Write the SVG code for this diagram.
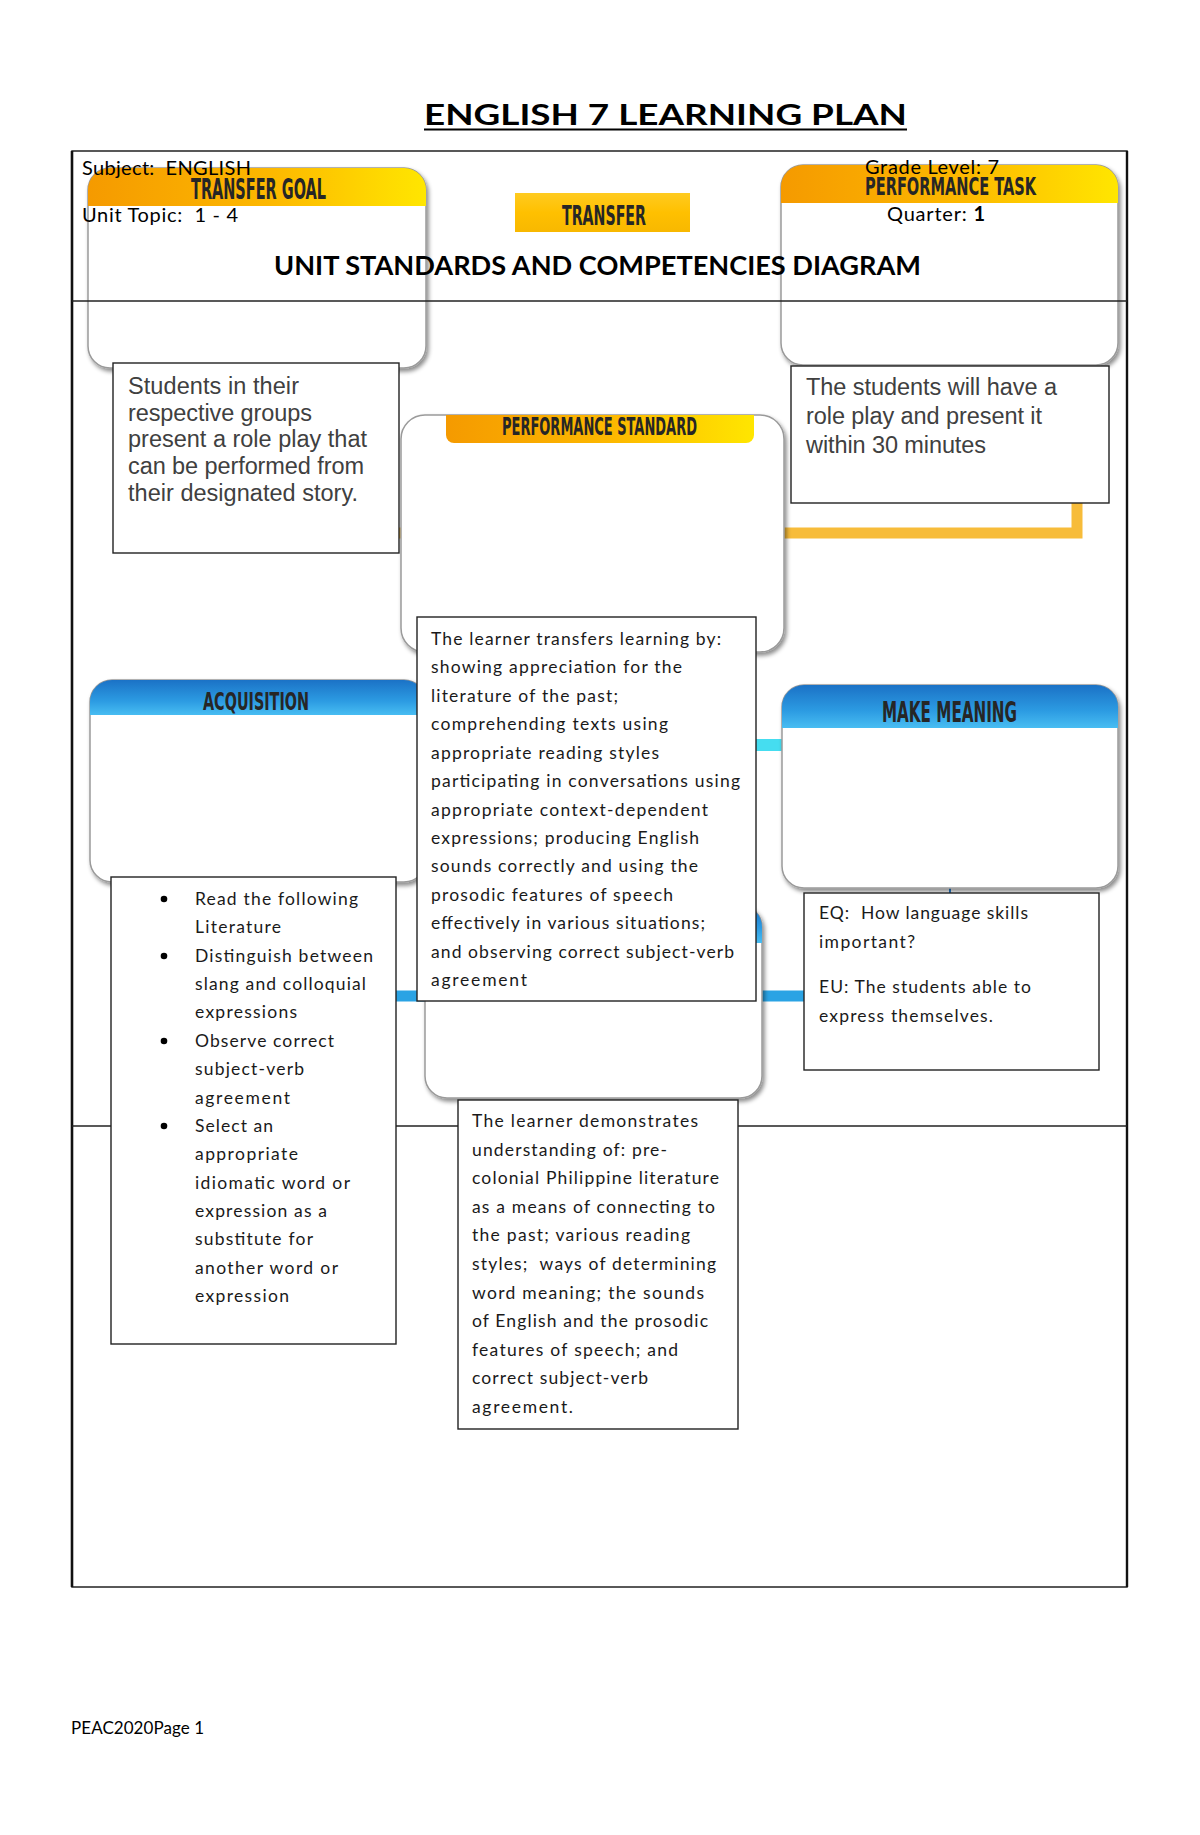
<svg xmlns="http://www.w3.org/2000/svg" width="1200" height="1835" viewBox="0 0 1200 1835">
<style>
.bg{fill:#ffffff}
.shape{fill:#ffffff;stroke:#9a9a9a;stroke-width:1.5}
.box{fill:#ffffff;stroke:#222222;stroke-width:1.4}
.hd{font-family:"DejaVu Sans Condensed","DejaVu Sans",sans-serif;font-weight:bold;fill:#262626}
.lbl{font-family:Lato,"Liberation Sans",sans-serif;font-size:20px;fill:#000000}
.arial{font-family:"Liberation Sans",Arial,sans-serif;font-size:23.5px;fill:#404040}
.cal{font-family:Lato,"Liberation Sans",sans-serif;font-size:17.5px;fill:#1a1a1a}
.tbl{fill:none;stroke:#222222;stroke-width:1.5}
</style>
<defs>
<linearGradient id="gOr" x1="0" y1="0" x2="1" y2="0">
<stop offset="0" stop-color="#F59A00"/>
<stop offset="0.55" stop-color="#FDB900"/>
<stop offset="1" stop-color="#FFE600"/>
</linearGradient>
<linearGradient id="gTr" x1="0" y1="0" x2="0" y2="1">
<stop offset="0" stop-color="#FFCB20"/>
<stop offset="0.5" stop-color="#FFC000"/>
<stop offset="1" stop-color="#F8B800"/>
</linearGradient>
<linearGradient id="gBl" x1="0" y1="0" x2="0" y2="1">
<stop offset="0" stop-color="#1B72C6"/>
<stop offset="0.6" stop-color="#2C9BE2"/>
<stop offset="1" stop-color="#48BDF2"/>
</linearGradient>
<filter id="sh" x="-10%" y="-10%" width="125%" height="130%">
<feDropShadow dx="2" dy="3" stdDeviation="2" flood-color="#000000" flood-opacity="0.45"/>
</filter>
</defs>
<rect class="bg" x="0" y="0" width="1200" height="1835"/>

<g id="connectors">
<path d="M 399 533 H 1077 V 503" fill="none" stroke="#F7BC3A" stroke-width="11"/>
<path d="M 426 745 H 782" fill="none" stroke="#45DDF0" stroke-width="12"/>
<path d="M 396 996 H 804" fill="none" stroke="#2AA3E4" stroke-width="11"/>
<path d="M 950 886 V 894" fill="none" stroke="#2A7FD0" stroke-width="2"/>
</g>

<g id="transfer-goal">
<rect class="shape" x="88" y="168" width="338" height="200" rx="22" filter="url(#sh)"/>
<path d="M 88 206 V 190 A 22 22 0 0 1 110 168 H 404 A 22 22 0 0 1 426 190 V 206 Z" fill="url(#gOr)"/>
<text class="hd" x="191" y="199" font-size="29" textLength="135" lengthAdjust="spacingAndGlyphs">TRANSFER GOAL</text>
</g>

<g id="transfer">
<rect x="515" y="193" width="175" height="39" fill="url(#gTr)"/>
<text class="hd" x="562" y="225" font-size="27" textLength="84" lengthAdjust="spacingAndGlyphs">TRANSFER</text>
</g>

<g id="performance-task">
<rect class="shape" x="781" y="165" width="337" height="200" rx="22" filter="url(#sh)"/>
<path d="M 781 203 V 187 A 22 22 0 0 1 803 165 H 1096 A 22 22 0 0 1 1118 187 V 203 Z" fill="url(#gOr)"/>
<text class="hd" x="865" y="195" font-size="25" textLength="171" lengthAdjust="spacingAndGlyphs">PERFORMANCE TASK</text>
</g>

<g id="performance-standard">
<rect class="shape" x="401" y="415" width="383" height="237" rx="24" filter="url(#sh)"/>
<path d="M 446 415 H 754 V 435 A 8 8 0 0 1 746 443 H 454 A 8 8 0 0 1 446 435 Z" fill="url(#gOr)"/>
<text class="hd" x="502" y="435" font-size="25" textLength="195" lengthAdjust="spacingAndGlyphs">PERFORMANCE STANDARD</text>
</g>

<g id="acquisition">
<rect class="shape" x="90" y="680" width="336" height="202" rx="22" filter="url(#sh)"/>
<path d="M 90 715 V 702 A 22 22 0 0 1 112 680 H 404 A 22 22 0 0 1 426 702 V 715 Z" fill="url(#gBl)"/>
<text class="hd" x="203" y="710" font-size="25" textLength="106" lengthAdjust="spacingAndGlyphs">ACQUISITION</text>
</g>

<g id="make-meaning">
<rect class="shape" x="782" y="685" width="336" height="203" rx="22" filter="url(#sh)"/>
<path d="M 782 728 V 707 A 22 22 0 0 1 804 685 H 1096 A 22 22 0 0 1 1118 707 V 728 Z" fill="url(#gBl)"/>
<text class="hd" x="882" y="722" font-size="29" textLength="135" lengthAdjust="spacingAndGlyphs">MAKE MEANING</text>
</g>

<g id="content-standard">
<rect class="shape" x="425" y="905" width="337" height="193" rx="22" filter="url(#sh)"/>
<path d="M 425 943 V 927 A 22 22 0 0 1 447 905 H 740 A 22 22 0 0 1 762 927 V 943 Z" fill="url(#gBl)"/>
</g>

<g id="table">
<rect class="tbl" x="72" y="151" width="1055" height="1436"/>
<line x1="72" y1="151" x2="72" y2="1587" stroke="#111111" stroke-width="2.6"/>
<line x1="1127" y1="151" x2="1127" y2="1587" stroke="#111111" stroke-width="2.4"/>
<line x1="72" y1="301" x2="1127" y2="301" stroke="#222222" stroke-width="1.5"/>
<line x1="72" y1="1126" x2="1127" y2="1126" stroke="#222222" stroke-width="1.5"/>
</g>

<g id="title">
<text x="424" y="125" font-family="Lato,'Liberation Sans',sans-serif" font-weight="bold" font-size="28" textLength="483" lengthAdjust="spacingAndGlyphs" fill="#000000">ENGLISH 7 LEARNING PLAN</text>
<line x1="424" y1="129.5" x2="907" y2="129.5" stroke="#000000" stroke-width="2"/>
</g>

<g id="header-info">
<text class="lbl" x="82" y="175" textLength="169">Subject:&#160; ENGLISH</text>
<text class="lbl" x="82" y="222" textLength="156">Unit Topic:&#160; 1 - 4</text>
<text class="lbl" x="865" y="174" textLength="134">Grade Level: 7</text>
<text class="lbl" x="887" y="221" textLength="98">Quarter: <tspan font-weight="bold">1</tspan></text>
<text x="274" y="275" font-family="Lato,'Liberation Sans',sans-serif" font-weight="bold" font-size="26" textLength="647" lengthAdjust="spacingAndGlyphs" fill="#000000">UNIT STANDARDS AND COMPETENCIES DIAGRAM</text>
</g>

<g id="transfer-goal-text">
<rect class="box" x="113" y="363" width="286" height="190"/>
<text class="arial" x="128" y="394" textLength="171">Students in their</text>
<text class="arial" x="128" y="420.7" textLength="184">respective groups</text>
<text class="arial" x="128" y="447.3" textLength="239">present a role play that</text>
<text class="arial" x="128" y="474" textLength="236">can be performed from</text>
<text class="arial" x="128" y="500.7" textLength="230">their designated story.</text>
</g>

<g id="performance-task-text">
<rect class="box" x="791" y="366" width="318" height="137"/>
<text class="arial" x="806" y="395" textLength="251">The students will have a</text>
<text class="arial" x="806" y="424" textLength="236">role play and present it</text>
<text class="arial" x="806" y="453" textLength="180">within 30 minutes</text>
</g>

<g id="performance-standard-text">
<rect class="box" x="417" y="617" width="339" height="384"/>
<text class="cal" x="431" y="645" textLength="290">The learner transfers learning by:</text>
<text class="cal" x="431" y="673.4" textLength="251">showing appreciation for the</text>
<text class="cal" x="431" y="701.8" textLength="187">literature of the past;</text>
<text class="cal" x="431" y="730.3" textLength="237">comprehending texts using</text>
<text class="cal" x="431" y="758.7" textLength="228">appropriate reading styles</text>
<text class="cal" x="431" y="787.1" textLength="309">participating in conversations using</text>
<text class="cal" x="431" y="815.5" textLength="277">appropriate context-dependent</text>
<text class="cal" x="431" y="843.9" textLength="268">expressions; producing English</text>
<text class="cal" x="431" y="872.4" textLength="267">sounds correctly and using the</text>
<text class="cal" x="431" y="900.8" textLength="242">prosodic features of speech</text>
<text class="cal" x="431" y="929.2" textLength="274">effectively in various situations;</text>
<text class="cal" x="431" y="957.6" textLength="303">and observing correct subject-verb</text>
<text class="cal" x="431" y="986" textLength="96">agreement</text>
</g>

<g id="acquisition-text">
<rect class="box" x="111" y="877" width="285" height="467"/>
<circle cx="164" cy="899" r="3.3" fill="#000000"/>
<circle cx="164" cy="956" r="3.3" fill="#000000"/>
<circle cx="164" cy="1041" r="3.3" fill="#000000"/>
<circle cx="164" cy="1126" r="3.3" fill="#000000"/>
<text class="cal" x="195" y="905" textLength="163">Read the following</text>
<text class="cal" x="195" y="933.4" textLength="86">Literature</text>
<text class="cal" x="195" y="961.7" textLength="178">Distinguish between</text>
<text class="cal" x="195" y="990.1" textLength="171">slang and colloquial</text>
<text class="cal" x="195" y="1018.4" textLength="102">expressions</text>
<text class="cal" x="195" y="1046.8" textLength="139">Observe correct</text>
<text class="cal" x="195" y="1075.2" textLength="109">subject-verb</text>
<text class="cal" x="195" y="1103.5" textLength="95">agreement</text>
<text class="cal" x="195" y="1131.9" textLength="78">Select an</text>
<text class="cal" x="195" y="1160.2" textLength="103">appropriate</text>
<text class="cal" x="195" y="1188.6" textLength="155">idiomatic word or</text>
<text class="cal" x="195" y="1217" textLength="132">expression as a</text>
<text class="cal" x="195" y="1245.3" textLength="118">substitute for</text>
<text class="cal" x="195" y="1273.7" textLength="143">another word or</text>
<text class="cal" x="195" y="1302" textLength="94">expression</text>
</g>

<g id="make-meaning-text">
<rect class="box" x="804" y="893" width="295" height="177"/>
<text class="cal" x="819" y="919" textLength="209">EQ:&#160; How language skills</text>
<text class="cal" x="819" y="948" textLength="96">important?</text>
<text class="cal" x="819" y="993" textLength="212">EU: The students able to</text>
<text class="cal" x="819" y="1022" textLength="174">express themselves.</text>
</g>

<g id="content-standard-text">
<rect class="box" x="458" y="1100" width="280" height="329"/>
<text class="cal" x="472" y="1127" textLength="226">The learner demonstrates</text>
<text class="cal" x="472" y="1155.6" textLength="195">understanding of: pre-</text>
<text class="cal" x="472" y="1184.2" textLength="247">colonial Philippine literature</text>
<text class="cal" x="472" y="1212.8" textLength="243">as a means of connecting to</text>
<text class="cal" x="472" y="1241.4" textLength="218">the past; various reading</text>
<text class="cal" x="472" y="1270" textLength="244">styles;&#160; ways of determining</text>
<text class="cal" x="472" y="1298.6" textLength="232">word meaning; the sounds</text>
<text class="cal" x="472" y="1327.2" textLength="236">of English and the prosodic</text>
<text class="cal" x="472" y="1355.8" textLength="206">features of speech; and</text>
<text class="cal" x="472" y="1384.4" textLength="176">correct subject-verb</text>
<text class="cal" x="472" y="1413" textLength="101">agreement.</text>
</g>

<g id="footer">
<text x="71" y="1734" font-family="Lato,'Liberation Sans',sans-serif" font-size="17" textLength="133" fill="#000000">PEAC2020Page 1</text>
</g>
</svg>
